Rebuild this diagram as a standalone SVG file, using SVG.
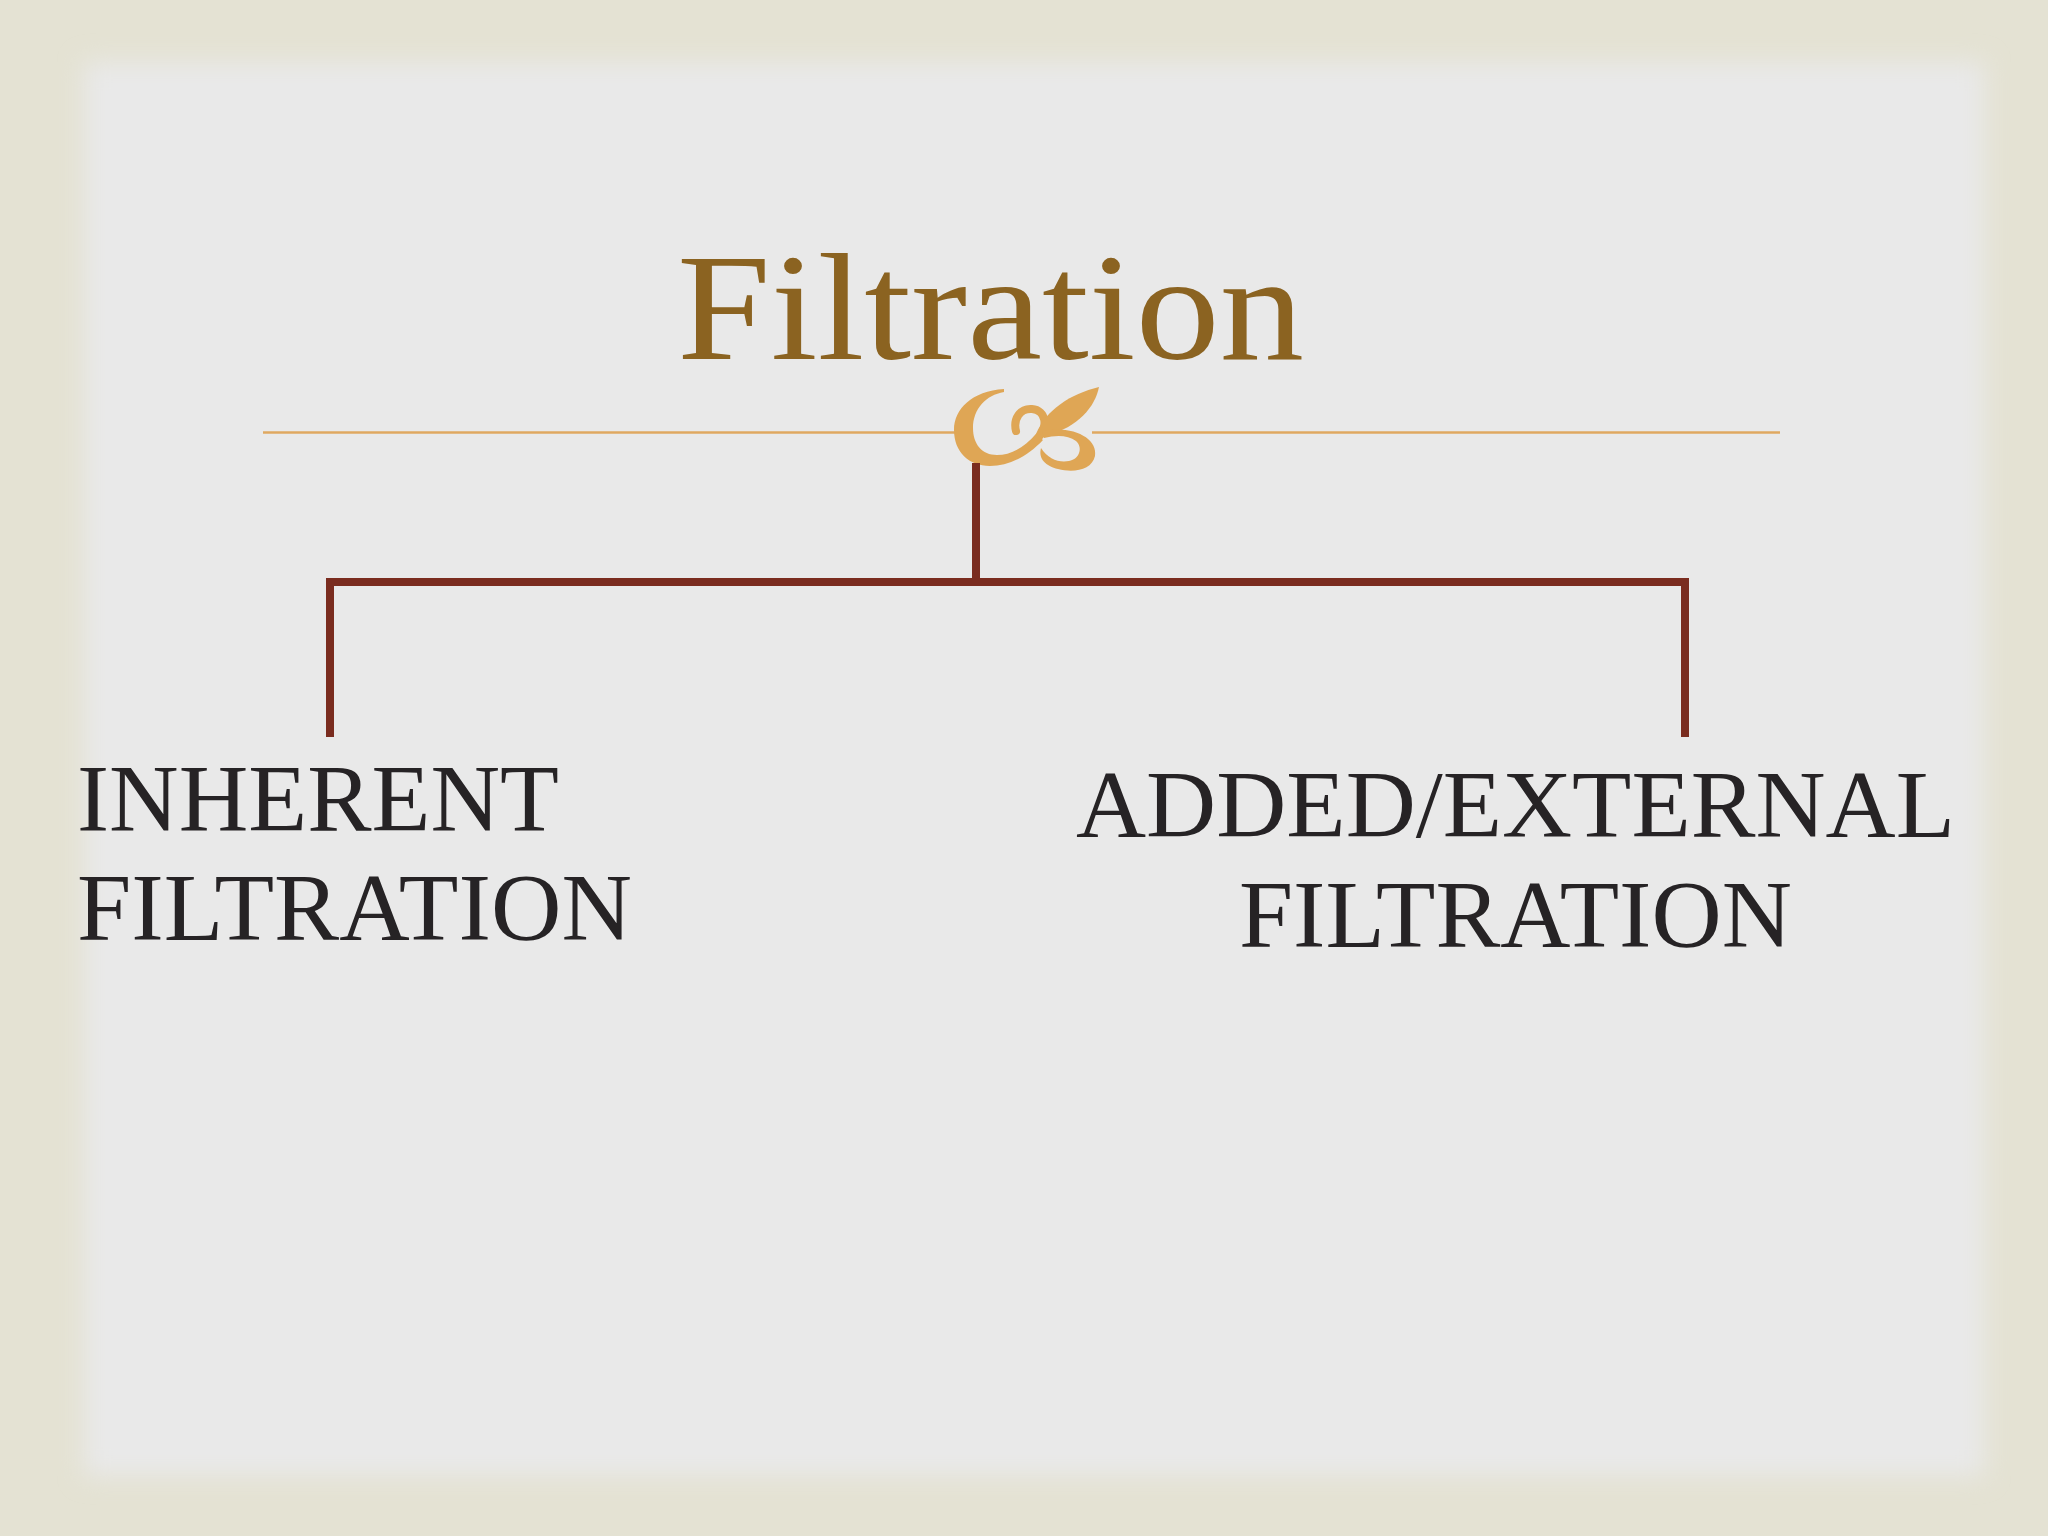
<svg xmlns="http://www.w3.org/2000/svg" width="2048" height="1536" viewBox="0 0 2048 1536">
<defs>
<filter id="soft" x="-5%" y="-5%" width="110%" height="110%"><feGaussianBlur stdDeviation="12"/></filter>
<style>
.lbl{font-family:"Liberation Serif","DejaVu Serif",serif;font-size:95px;fill:#262325;}
.title{font-family:"Liberation Serif","DejaVu Serif",serif;font-size:152px;fill:#8B6321;}
.conn{fill:none;stroke:#7A2C1F;stroke-width:8;stroke-linejoin:miter;}
.orn{fill:#DFA655;}
</style>
</defs>
<rect x="0" y="0" width="2048" height="1536" fill="#E4E2D3"/>
<rect x="84" y="62" width="1900" height="1414" fill="#E9E9E9" filter="url(#soft)"/>
<g id="title">
<text class="title" x="677" y="359" textLength="627" lengthAdjust="spacingAndGlyphs">Filtration</text>
</g>
<g id="divider">
<line x1="263" y1="432.5" x2="957" y2="432.5" stroke="#DFA860" stroke-width="2.5"/>
<line x1="1092" y1="432.5" x2="1780" y2="432.5" stroke="#DFA860" stroke-width="2.5"/>
<path class="orn" d="M1004,389 C972,391 954,409 954,430 C954,452 969,466 990,466 C1009,466 1028,456 1043,440 L1036,434 C1024,448 1010,455 997,455 C982,455 973,444 973,428 C973,409 986,395 1004,392 Z"/>
<path d="M1037,439 C1049,427 1046,410 1032,409 C1020,408 1013,419 1016,431" fill="none" stroke="#DFA655" stroke-width="8" stroke-linecap="round"/>
<path class="orn" d="M1036,434 C1046,410 1070,394 1099,387 C1095,407 1078,427 1048,435 Z"/>
<path class="orn" d="M1042,431 C1074,425 1098,439 1095,456 C1092,470 1074,473 1058,469 C1046,466 1038,459 1041,448 C1048,459 1059,463 1069,461 C1080,459 1083,447 1076,441 C1068,435 1056,435 1044,438 Z"/>
</g>
<g id="connectors">
<path class="conn" d="M976,463 V582"/>
<path class="conn" d="M330,737 V582 H1685 V737"/>
</g>
<g id="node-inherent">
<text class="lbl" x="77" y="831" textLength="482" lengthAdjust="spacingAndGlyphs">INHERENT</text>
<text class="lbl" x="77" y="940" textLength="555" lengthAdjust="spacingAndGlyphs">FILTRATION</text>
</g>
<g id="node-added">
<text class="lbl" x="1076" y="837" textLength="879" lengthAdjust="spacingAndGlyphs">ADDED/EXTERNAL</text>
<text class="lbl" x="1239" y="947" textLength="553" lengthAdjust="spacingAndGlyphs">FILTRATION</text>
</g>
</svg>
